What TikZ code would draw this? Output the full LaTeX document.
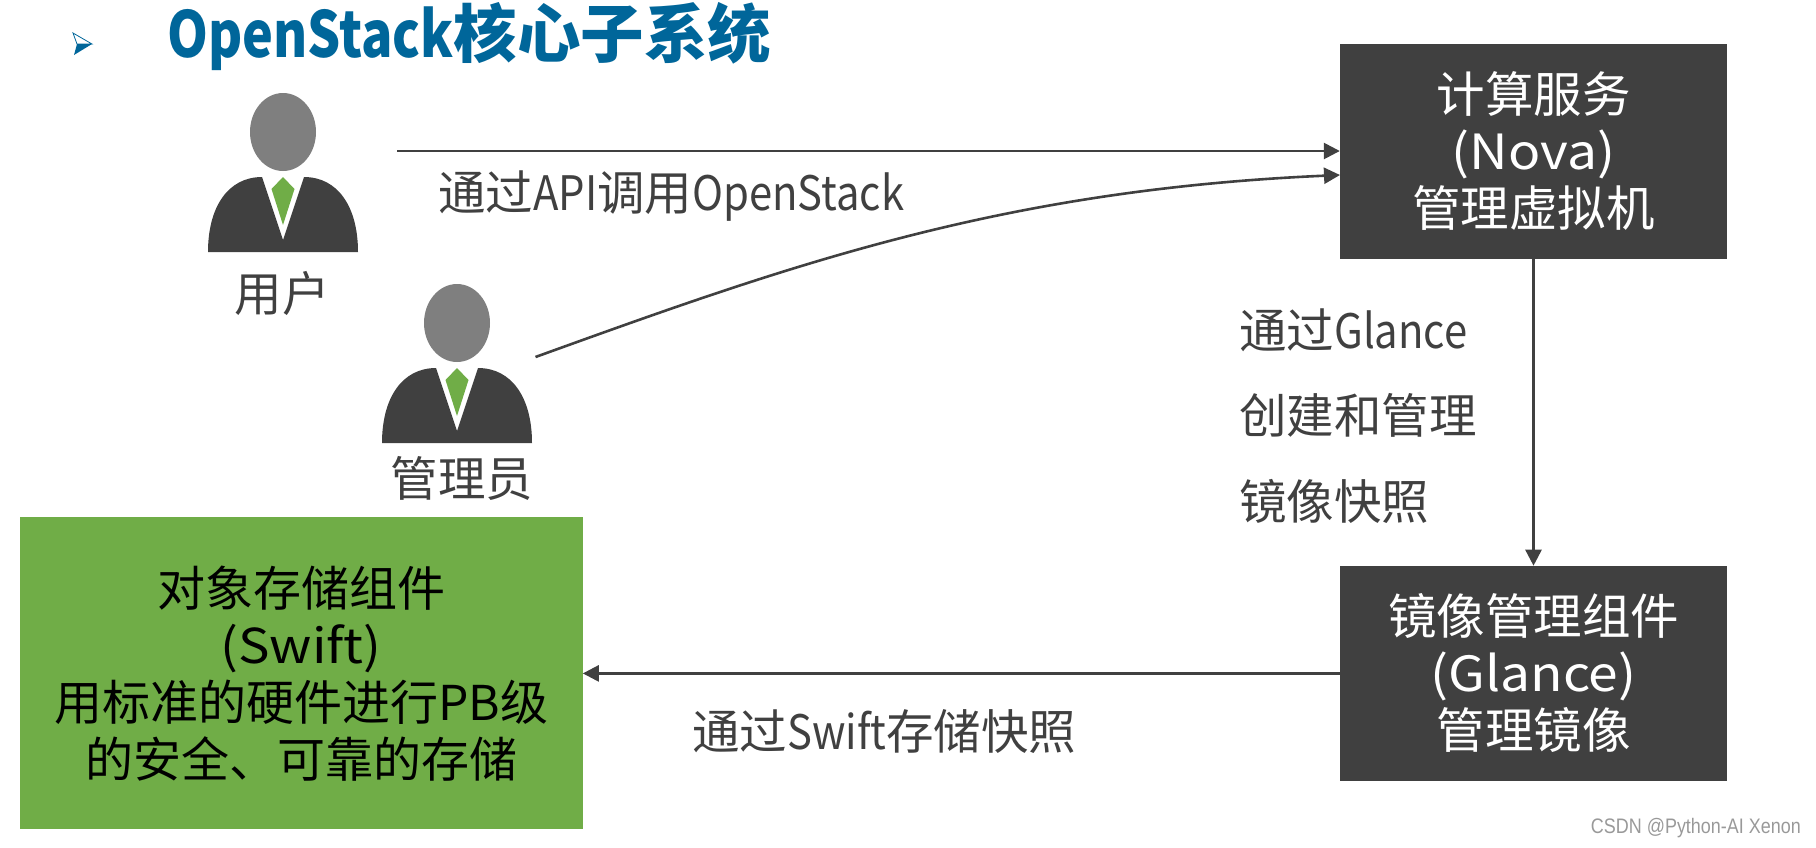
\documentclass[tikz,border=0pt]{standalone}
\usepackage{fontspec}
\setmainfont{Noto Sans CJK SC}
\newfontfamily\narrowfont[FakeStretch=0.88]{Noto Sans CJK SC}
\newfontfamily\titlefont[FakeStretch=0.82]{Noto Sans CJK SC}
\newfontfamily\widefont[FakeStretch=1.1]{Noto Sans CJK SC}
\newfontfamily\markfont[FakeStretch=0.855]{Liberation Sans}
\usetikzlibrary{positioning,arrows.meta}

\definecolor{darkgrey}{HTML}{404040}
\definecolor{headgrey}{HTML}{7F7F7F}
\definecolor{leafgreen}{HTML}{70AD47}
\definecolor{titleblue}{HTML}{00669A}

\tikzset{
	box/.style={rectangle, draw=none, inner sep=0pt, align=center, font=\fontsize{48.5}{57}\selectfont},
	darkbox/.style={box, fill=darkgrey, text=white, minimum width=387pt, minimum height=215pt},
	txt/.style={inner sep=0pt, text=darkgrey, font=\fontsize{47.5}{47.5}\selectfont},
	edge/.style={draw=darkgrey, line width=2.6pt, -{Triangle[length=16pt,width=16pt]}},
	pics/person/.style={code={
		\fill[headgrey] (0,-45) ellipse [x radius=33, y radius=39];
		\fill[darkgrey] (-75,75) .. controls (-75,30) and (-55,0) .. (-21,0) -- (0,63) -- (21,0)
			.. controls (55,0) and (75,30) .. (75,75) -- cycle;
		\fill[leafgreen] (0,0) -- (11.5,12) -- (0,48) -- (-11.5,12) -- cycle;
	}}
}

\begin{document}
\begin{tikzpicture}[x=1pt, y=-1pt]
	\useasboundingbox (0,0) rectangle (1816,847);

	% Title
	\draw[titleblue, line width=0.8pt] (73,33) -- (92,44) -- (77,44) -- cycle;
	\fill[titleblue] (77,44) -- (92,44) -- (74,55) -- cycle;
	\node[anchor=west, inner sep=0pt, text=titleblue, font=\fontsize{63.5}{63.5}\selectfont\bfseries] (title) at (167,37) {{\titlefont OpenStack}核心子系统};

	% Services
	\node[darkbox] (nova) at (1533.5,151) {计算服务\\{\widefont (Nova)}\\管理虚拟机};
	\node[darkbox, below=307pt of nova] (glance) {镜像管理组件\\{\widefont (Glance)}\\管理镜像};
	\node[box, fill=leafgreen, text=black, minimum width=563pt, minimum height=312pt, left=757pt of glance, font=\fontsize{48}{57}\selectfont] (swift)
		{对象存储组件\\{\widefont (Swift)}\\用标准的硬件进行PB级\\的安全、可靠的存储};

	% People
	\coordinate (user) at (283,177);
	\coordinate (admin) at (457,368);
	\pic at (user) {person};
	\pic at (admin) {person};
	\node[txt] (user-label) at (282,293) {用户};
	\node[txt] (admin-label) at (462,478) {管理员};

	% Edge labels
	\node[txt, anchor=west] (api-label) at (438,196) {通过{\narrowfont API}调用{\narrowfont OpenStack}};
	\node[txt, anchor=west] (image-a) at (1239,330) {通过{\narrowfont Glance}};
	\node[txt, anchor=west] (image-b) at (1239,415) {创建和管理};
	\node[txt, anchor=west] (image-c) at (1239,501) {镜像快照};
	\node[txt, anchor=west] (store-label) at (692,732) {通过{\narrowfont Swift}存储快照};

	% Free ends
	\coordinate (user-out) at (397,151);
	\coordinate (admin-out) at (535.5,357);
	\coordinate (nova-in) at (1340,175);

	% Edges
	\draw[edge] (user-out) -- (nova.west);
	\draw[edge] (admin-out) .. controls (790,265) and (1000,190) .. (nova-in);
	\draw[edge] (nova) -- (glance);
	\draw[edge] (glance) -- (swift);

	% Watermark
	\node[anchor=east, inner sep=0pt, text=black!40, font=\markfont\fontsize{21}{21}\selectfont] (mark) at (1801,828) {CSDN @Python-AI Xenon};
\end{tikzpicture}
\end{document}
